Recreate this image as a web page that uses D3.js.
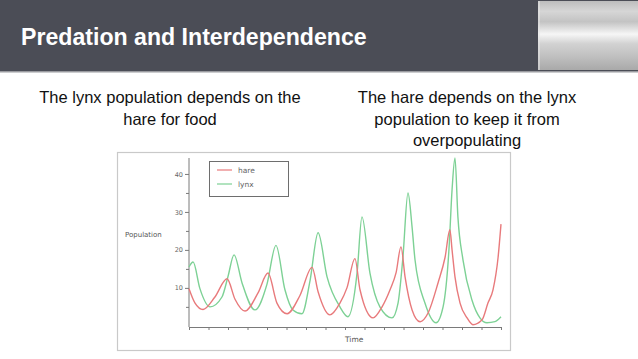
<!DOCTYPE html>
<html>
<head>
<meta charset="utf-8">
<script src="https://cdn.jsdelivr.net/npm/d3@7"></script>
<style>
  html, body { margin: 0; padding: 0; background: #fff; }
  svg { display: block; }
  .sans { font-family: "Liberation Sans", Arimo, Arial, Helvetica, sans-serif; }
  .small { font-family: "DejaVu Sans", sans-serif; }
</style>
</head>
<body>
<svg id="c" width="638" height="359"></svg>
<script>
// ---- data ----
const title = "Predation and Interdependence";
const leftText = ["The lynx population depends on the", "hare for food"];
const rightText = ["The hare depends on the lynx", "population to keep it from", "overpopulating"];
const seriesNames = ["hare", "lynx"];
const yTickLabels = [10, 20, 30, 40];
const yMinorTicks = [5, 15, 25, 35];
const xTicks = d3.range(0, 17, 1);

// [time, population]
const hare = [
  [0.00, 9.8], [0.31, 6.0], [0.72, 4.3], [1.33, 7.6], [1.95, 12.4], [2.36, 7.0],
  [2.87, 3.9], [3.54, 8.7], [4.05, 13.9], [4.51, 6.0], [5.03, 3.2], [5.69, 8.0],
  [6.31, 15.4], [6.62, 9.0], [7.23, 2.9], [7.74, 6.0], [8.10, 10.0], [8.51, 17.7],
  [8.77, 9.5], [9.44, 2.1], [9.90, 5.0], [10.31, 9.5], [10.62, 14.0], [10.87, 20.8],
  [11.08, 12.9], [11.44, 4.2], [11.85, 1.1], [12.26, 3.4], [12.77, 11.3], [13.13, 18.0],
  [13.38, 25.3], [13.49, 20.0], [13.64, 12.9], [13.90, 6.0], [14.26, 2.1], [14.56, 0.3],
  [15.03, 1.6], [15.33, 6.0], [15.59, 9.5], [15.85, 18.0], [16.00, 26.8]
];
const lynx = [
  [0.00, 15.5], [0.21, 16.8], [0.56, 9.8], [1.08, 5.0], [1.69, 7.6], [2.00, 13.0],
  [2.31, 18.7], [2.72, 11.3], [3.38, 4.2], [4.00, 11.0], [4.46, 21.2], [4.92, 9.5],
  [5.33, 4.2], [5.79, 3.2], [6.21, 12.0], [6.62, 24.5], [7.08, 12.9], [7.74, 5.0],
  [8.15, 2.4], [8.62, 14.0], [8.87, 28.7], [9.28, 13.9], [9.79, 5.0], [10.41, 2.1],
  [10.72, 6.0], [10.97, 18.0], [11.23, 35.0], [11.44, 26.0], [11.59, 17.4], [12.10, 6.0],
  [12.67, 0.8], [13.03, 5.0], [13.33, 20.0], [13.49, 35.8], [13.64, 44.2], [13.79, 28.7],
  [14.05, 17.4], [14.51, 6.8], [14.92, 2.1], [15.28, 0.8], [15.69, 1.1], [16.00, 2.4]
];
const colors = { hare: "#e87a7c", lynx: "#7dd195" };

// ---- drawing ----
const svg = d3.select("#c");
const defs = svg.append("defs");
const g = defs.append("linearGradient").attr("id", "silver").attr("x1", 0).attr("y1", 0).attr("x2", 0).attr("y2", 1);
[["0%", "#bdbdbd"], ["15%", "#d6d6d6"], ["30%", "#c3c3c3"], ["48%", "#f6f6f6"], ["62%", "#d2d2d2"],
 ["80%", "#c0c0c0"], ["100%", "#a9a9a9"]].forEach(s => g.append("stop").attr("offset", s[0]).attr("stop-color", s[1]));

// header
svg.append("rect").attr("x", 0).attr("y", 0).attr("width", 638).attr("height", 71).attr("fill", "#4b4d56");
svg.append("rect").attr("x", 0).attr("y", 71).attr("width", 638).attr("height", 1.5).attr("fill", "#9a9ba0");
svg.append("rect").attr("x", 538).attr("y", 1).attr("width", 100).attr("height", 69).attr("fill", "url(#silver)");
svg.append("line").attr("x1", 539).attr("x2", 539).attr("y1", 1).attr("y2", 70).attr("stroke", "#e8e8e8").attr("stroke-width", 1);
const tt = svg.append("text").attr("class", "sans").attr("x", 21).attr("y", 44.5).text(title)
  .attr("font-weight", "bold").attr("font-size", 22).attr("fill", "#ffffff");
const tw = tt.node().getComputedTextLength();
if (tw > 0) tt.attr("font-size", 22 * 346 / tw);

// subtitle text
leftText.forEach((t, i) => svg.append("text").attr("class", "sans").attr("x", 170).attr("y", 103 + i * 21.5)
  .attr("text-anchor", "middle").attr("font-size", 16.5).attr("fill", "#111").text(t));
rightText.forEach((t, i) => svg.append("text").attr("class", "sans").attr("x", 467).attr("y", 103 + i * 21.5)
  .attr("text-anchor", "middle").attr("font-size", 16.5).attr("fill", "#111").text(t));

// chart frame
svg.append("rect").attr("x", 117.5).attr("y", 152.5).attr("width", 393).attr("height", 198)
  .attr("fill", "#fff").attr("stroke", "#c9c9c9").attr("stroke-width", 1.2);

const x = d3.scaleLinear().domain([0, 16]).range([189, 501]);
const y = d3.scaleLinear().domain([-0.3, 44.2]).range([327, 158]);
const axisColor = "#7a7a7a";

// y axis
const yAxis = svg.append("g").attr("transform", `translate(${x(0)},0)`)
  .call(d3.axisLeft(y).tickValues(yTickLabels).tickSize(4).tickPadding(2).tickFormat(d3.format("d")));
yAxis.select(".domain").remove();
svg.append("g").attr("transform", `translate(${x(0)},0)`)
  .call(d3.axisLeft(y).tickValues(yMinorTicks).tickSize(3).tickFormat(""))
  .select(".domain").remove();
svg.append("line").attr("x1", x(0)).attr("x2", x(0)).attr("y1", y(44.2)).attr("y2", y(-0.3))
  .attr("stroke", axisColor);
yAxis.selectAll("text").attr("class", "small").attr("font-size", 6.5).attr("fill", "#666");

// x axis
const xAxis = svg.append("g").attr("transform", `translate(0,${y(-0.3)})`)
  .call(d3.axisBottom(x).tickValues(xTicks).tickSize(3).tickFormat(""));
xAxis.select(".domain").attr("stroke", axisColor);
svg.selectAll(".tick line").attr("stroke", axisColor);

// axis labels
svg.append("text").attr("class", "small").attr("x", 125).attr("y", 237).text("Population")
  .attr("font-size", 7).attr("fill", "#555");
svg.append("text").attr("class", "small").attr("x", 345).attr("y", 342).text("Time")
  .attr("font-size", 7.5).attr("fill", "#555");

// lines
const line = d3.line().x(d => x(d[0])).y(d => y(d[1])).curve(d3.curveMonotoneX);
svg.append("path").datum(lynx).attr("d", line).attr("fill", "none")
  .attr("stroke", colors.lynx).attr("stroke-width", 1.4);
svg.append("path").datum(hare).attr("d", line).attr("fill", "none")
  .attr("stroke", colors.hare).attr("stroke-width", 1.4);

// legend
svg.append("rect").attr("x", 209.5).attr("y", 161.5).attr("width", 79).attr("height", 35)
  .attr("fill", "#fff").attr("stroke", "#6e6e6e").attr("stroke-width", 1);
seriesNames.forEach((n, i) => {
  const ly = 170 + i * 14;
  svg.append("line").attr("x1", 217).attr("x2", 232).attr("y1", ly).attr("y2", ly)
    .attr("stroke", colors[n]).attr("stroke-width", 1.2);
  svg.append("text").attr("class", "small").attr("x", 238).attr("y", ly + 2.5).text(n)
    .attr("font-size", 7.5).attr("fill", "#666");
});
</script>
</body>
</html>
